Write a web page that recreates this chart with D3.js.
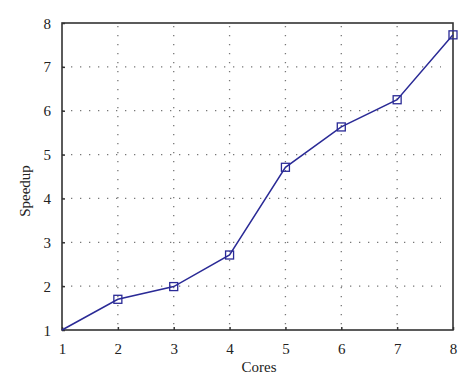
<!DOCTYPE html>
<html><head><meta charset="utf-8">
<script src="https://cdn.jsdelivr.net/npm/d3@7"></script>
<style>body{margin:0;background:#fff}svg{display:block}</style>
</head><body>
<script>
const cores = [1,2,3,4,5,6,7,8];
const speedup = [1, 1.70, 1.99, 2.71, 4.71, 5.63, 6.25, 7.73];
const xTicks = [1,2,3,4,5,6,7,8];
const yTicks = [1,2,3,4,5,6,7,8];
const xLabel = "Cores", yLabel = "Speedup";

const W=474,H=392, L=62,R=453,T=23,B=330;
const font = "'Liberation Serif','DejaVu Serif',serif";
const svg = d3.select("body").append("svg").attr("width",W).attr("height",H);
const x = d3.scaleLinear().domain([1,8]).range([L,R]);
const y = d3.scaleLinear().domain([1,8]).range([B,T]);

// grid
const g = svg.append("g").attr("stroke","#777").attr("stroke-width",1.3).attr("stroke-dasharray","1.3,7.7");
g.selectAll(".gx").data(xTicks.slice(1,-1)).enter().append("line")
  .attr("x1",d=>x(d)).attr("x2",d=>x(d)).attr("y1",T+3).attr("y2",B);
g.selectAll(".gy").data(yTicks.slice(1,-1)).enter().append("line")
  .attr("y1",d=>y(d)).attr("y2",d=>y(d)).attr("x1",L).attr("x2",R-12);

// axes
const fmt = d3.format("d");
const xa = svg.append("g").attr("transform",`translate(0,${B})`)
  .call(d3.axisBottom(x).tickValues(xTicks).tickFormat(fmt).tickSizeInner(-3).tickSizeOuter(0).tickPadding(13));
const ya = svg.append("g").attr("transform",`translate(${L},0)`)
  .call(d3.axisLeft(y).tickValues(yTicks).tickFormat(fmt).tickSizeInner(-3).tickSizeOuter(0).tickPadding(11));
[xa,ya].forEach(a=>{
  a.select(".domain").remove();
  a.selectAll("line").attr("stroke","#333").attr("stroke-width",1.5);
  a.selectAll("text").attr("font-family",font).attr("font-size",15).attr("fill","#222");
});
ya.selectAll("text").attr("dy","0.34em");

// frame
svg.append("rect").attr("x",L).attr("y",T).attr("width",R-L).attr("height",B-T)
  .attr("fill","none").attr("stroke","#333").attr("stroke-width",1.6);

// series
const col = "#2a2a96";
svg.append("path").datum(cores.map((c,i)=>[c,speedup[i]]))
  .attr("fill","none").attr("stroke",col).attr("stroke-width",1.5)
  .attr("d",d3.line().x(d=>x(d[0])).y(d=>y(d[1])));
svg.selectAll(".m").data(cores.map((c,i)=>[c,speedup[i]]).slice(1)).enter().append("rect")
  .attr("x",d=>x(d[0])-4).attr("y",d=>y(d[1])-4).attr("width",8).attr("height",8)
  .attr("fill","none").attr("stroke",col).attr("stroke-width",1.3);

// labels
svg.append("text").attr("x",259).attr("y",372).attr("text-anchor","middle")
  .attr("font-family",font).attr("font-size",15).attr("fill","#222").text(xLabel);
svg.append("text").attr("transform","translate(30,191) rotate(-90)").attr("text-anchor","middle")
  .attr("font-family",font).attr("font-size",15).attr("fill","#222").text(yLabel);
</script>
</body></html>
